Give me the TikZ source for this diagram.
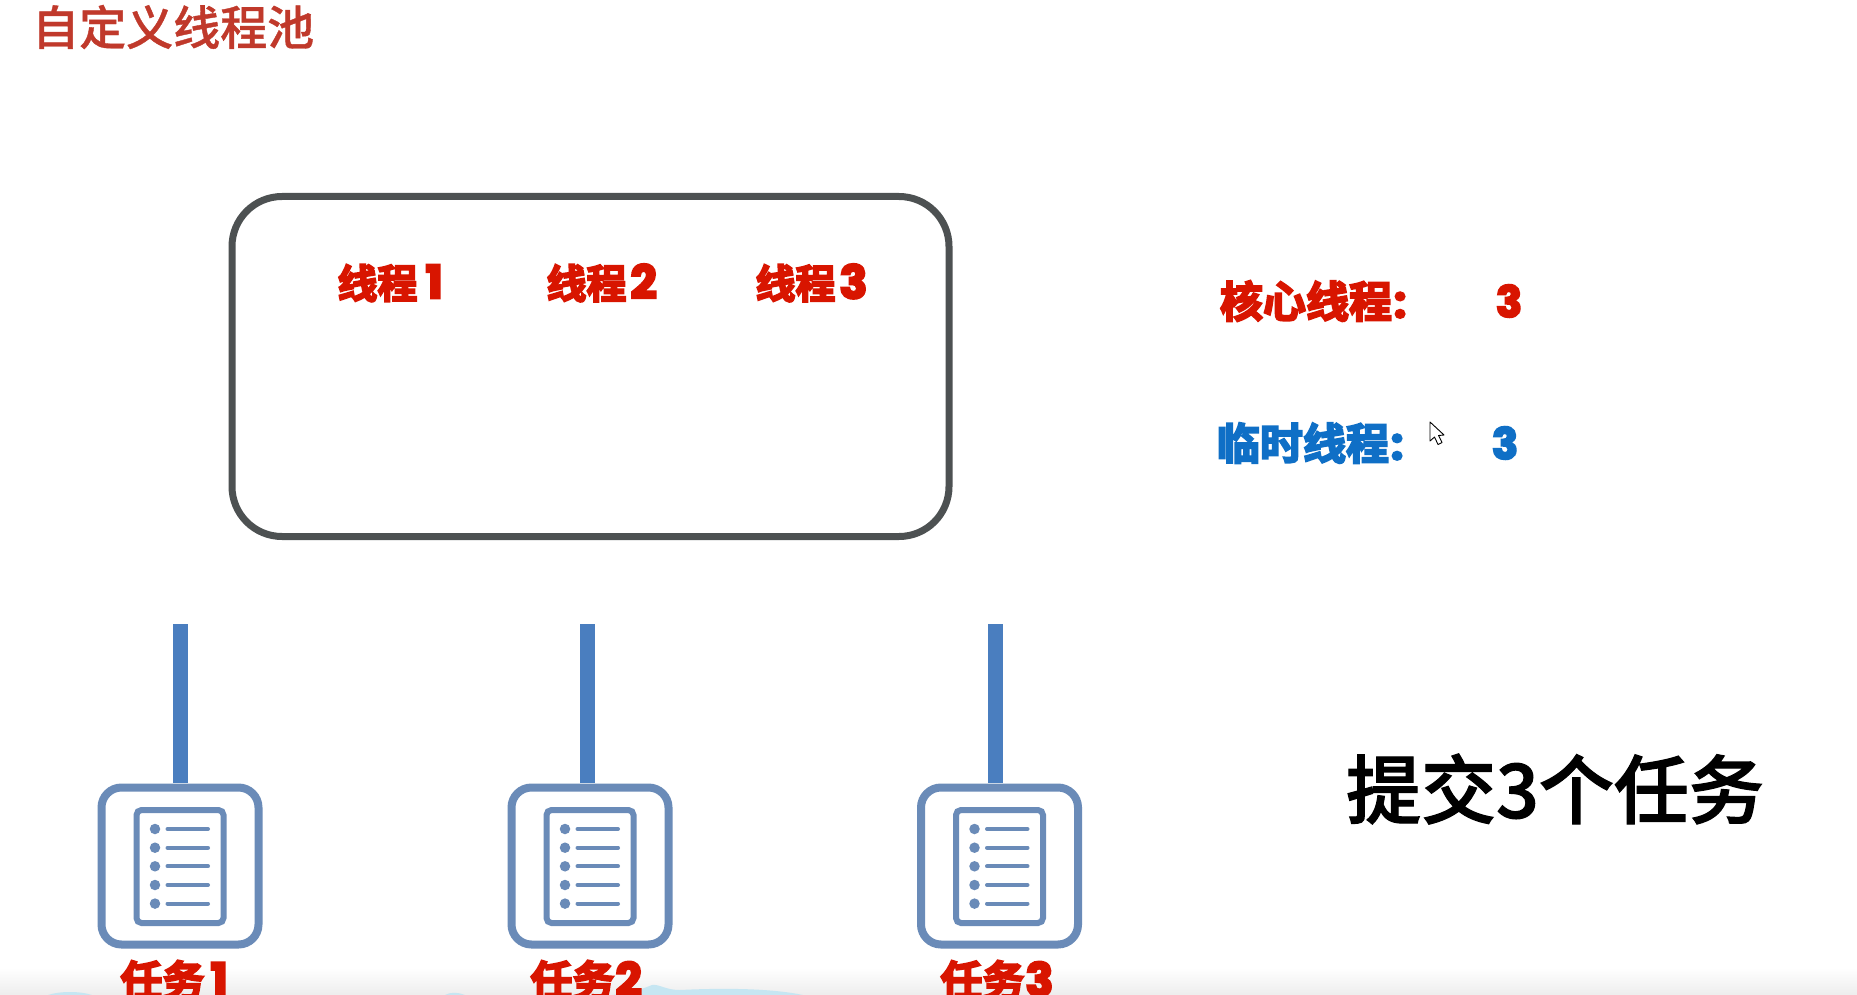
\documentclass[tikz,border=0pt]{standalone}
\usepackage{fontspec}
\newfontfamily\cjkfat{Noto Sans CJK SC Bold}[FakeBold=4.5]
\newfontfamily\digitfat{Poppins}[FakeBold=5]
\newfontfamily\cjkmid{Noto Sans CJK SC Medium}[FakeBold=1.6]
\newfontfamily\cjktitle{Noto Sans CJK SC Medium}[FakeBold=0.8]
\newcommand{\dg}[1]{{\digitfat\bfseries #1}}
\newcommand{\dgb}[1]{{\digitfat\bfseries\fontsize{46pt}{46pt}\selectfont #1}}
\definecolor{titlered}{HTML}{C0392B}
\definecolor{fatred}{HTML}{D81500}
\definecolor{fatblue}{HTML}{0F6FC6}
\definecolor{framegrey}{HTML}{4D5152}
\definecolor{barblue}{HTML}{4A7EBF}
\definecolor{iconblue}{HTML}{6A8BB8}
\definecolor{blob}{HTML}{C6E6F2}
\tikzset{
  frame/.style={draw=framegrey,line width=7pt,rounded corners=50pt,minimum width=717pt,minimum height=340pt,inner sep=0pt,outer sep=0pt},
  bar/.style={draw=barblue,line width=15pt},
  iconouter/.style={draw=iconblue,fill=white,line width=8pt,rounded corners=20pt,minimum width=157pt,minimum height=157pt,inner sep=0pt,outer sep=0pt},
  iconinner/.style={draw=iconblue,line width=6pt,rounded corners=5pt,minimum width=87pt,minimum height=113pt,inner sep=0pt,outer sep=0pt},
  dotmark/.style={circle,fill=iconblue,minimum size=10.5pt,inner sep=0pt,outer sep=0pt},
  rowline/.style={draw=iconblue,line width=4pt,line cap=round},
  fatlabel/.style={inner sep=0pt,outer sep=0pt,text=fatred,font=\cjkfat\fontsize{40pt}{40pt}\selectfont},
  bluelabel/.style={fatlabel,text=fatblue},
  tasklabel/.style={fatlabel,font=\cjkfat\fontsize{42pt}{42pt}\selectfont},
}
\newcommand{\taskicon}[2]{%
  \node[iconouter] (t#2) at (#1,866) {};
  \node[iconinner] (d#2) at (#1,866.5) {};
  \foreach \yy/\rr in {829/a,847.7/b,866.3/c,885/d,903.6/e}{
    \node[dotmark] (b#2\rr) at (#1-25,\yy) {};
    \coordinate (ls#2\rr) at (#1-12.5,\yy);
    \coordinate (le#2\rr) at (#1+28,\yy);
    \draw[rowline] (ls#2\rr) -- (le#2\rr);
  }
}
\begin{document}
\begin{tikzpicture}[x=1pt,y=-1pt]
\useasboundingbox (0,0) rectangle (1857,995);
\fill[white] (0,0) rectangle (1857,995);
% bottom strip
\shade[top color=white,bottom color=black!7] (0,968) rectangle (1857,995);
\fill[blob] (612,995) .. controls (630,993) and (640,990) .. (652,985) .. controls (660,984) and (665,990) .. (680,990) .. controls (720,988) and (770,988) .. (803,995) -- cycle;
\fill[blob] (48,995) .. controls (60,991) and (80,991) .. (92,995) -- cycle;
\fill[blob] (140,995) .. controls (145,992) and (155,992) .. (162,995) -- cycle;
\fill[blob] (445,995) .. controls (450,992) and (458,992) .. (465,995) -- cycle;

\node[anchor=west,inner sep=0pt,text=titlered,font=\cjktitle\fontsize{47pt}{47pt}\selectfont] (title) at (32,27) {自定义线程池};

\node[frame] (pool) at (590.5,366.5) {};
\node[fatlabel,anchor=west] (th1) at (337.5,283) {线程\hspace{8pt}\dgb{1}};
\node[fatlabel,anchor=west] (th2) at (546.5,283) {线程\hspace{4pt}\dgb{2}};
\node[fatlabel,anchor=west] (th3) at (755.5,283) {线程\hspace{4pt}\dgb{3}};

\node[fatlabel,anchor=west,font=\cjkfat\fontsize{43pt}{43pt}\selectfont] (core) at (1220,301) {核心线程\hspace{2pt}\dg{:}};
\node[fatlabel,font=\cjkfat\fontsize{43pt}{43pt}\selectfont] (coren) at (1509,301) {\dg{3}};
\node[bluelabel,anchor=west,font=\cjkfat\fontsize{43pt}{43pt}\selectfont] (temp) at (1217,443) {临时线程\hspace{2pt}\dg{:}};
\node[bluelabel,font=\cjkfat\fontsize{43pt}{43pt}\selectfont] (tempn) at (1505,443) {\dg{3}};

% cursor
\draw[black,fill=white,line width=0.9pt,line join=round] (1430,422) -- (1430,441) -- (1434.5,437) -- (1438,444.5) -- (1442,442.5) -- (1438.5,435.5) -- (1444,435) -- cycle;

\node[anchor=center,inner sep=0pt,text=black,font=\cjkmid\fontsize{75pt}{75pt}\selectfont] (submit) at (1555,789) {提交3个任务};

\taskicon{180}{1}
\taskicon{590}{2}
\taskicon{999.5}{3}

\coordinate (c1) at (180,624);
\coordinate (c2) at (587,624);
\coordinate (c3) at (995,624);
\coordinate (e1) at (180,783);
\coordinate (e2) at (587,783);
\coordinate (e3) at (995,783);
\draw[bar] (c1) -- (e1);
\draw[bar] (c2) -- (e2);
\draw[bar] (c3) -- (e3);

\node[tasklabel,anchor=west] (n1) at (120.5,980) {任务\hspace{6pt}\dgb{1}};
\node[tasklabel,anchor=west] (n2) at (530.5,980) {任务\hspace{1pt}\dgb{2}};
\node[tasklabel,anchor=west] (n3) at (940.5,980) {任务\hspace{1pt}\dgb{3}};
\end{tikzpicture}
\end{document}
